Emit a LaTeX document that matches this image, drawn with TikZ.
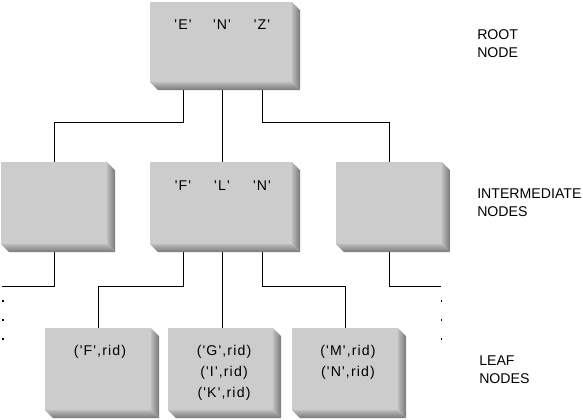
\documentclass[tikz,border=0pt]{standalone}
\usepackage{fontspec}
\newfontfamily\arialf{Liberation Sans}
\newfontfamily\arialsp{Liberation Sans}[LetterSpace=8]
\usetikzlibrary{fit,backgrounds}
\definecolor{face}{RGB}{204,204,204}
\definecolor{bevlight}{RGB}{188,188,188}
\definecolor{bevdark}{RGB}{120,120,120}
\newcommand\bevel[1]{%
  \shade[left color=bevlight,right color=bevdark] (#1.north east) -- ([shift={(8,8)}]#1.north east) -- ([shift={(8,8)}]#1.south east) -- (#1.south east) -- cycle;
  \shade[top color=bevlight,bottom color=bevdark] (#1.south west) -- (#1.south east) -- ([shift={(8,8)}]#1.south east) -- ([shift={(8,8)}]#1.south west) -- cycle;
}
\begin{document}
\begin{tikzpicture}[x=0.75pt,y=-0.75pt,
  font=\arialf\fontsize{10.6pt}{12pt}\selectfont,
  boxface/.style={fill=face, inner sep=0pt, outer sep=0pt, draw=none},
  txt/.style={inner sep=0pt, anchor=base, font=\arialsp\fontsize{10.6pt}{12pt}\selectfont},
  lbl/.style={inner sep=0pt, anchor=base west},
  conn/.style={draw=black, line width=0.75pt}]
\useasboundingbox (0,0) rectangle (583,419);
% boxes
\node[boxface, fit={(150,2) (292,82)}] (root) {};
\bevel{root}
\node[boxface, fit={(1,162) (107,244)}] (intL) {};
\bevel{intL}
\node[boxface, fit={(150,162) (292,244)}] (intM) {};
\bevel{intM}
\node[boxface, fit={(336,162) (442,244)}] (intR) {};
\bevel{intR}
\node[boxface, fit={(45,328) (151,410)}] (leafA) {};
\bevel{leafA}
\node[boxface, fit={(168,328) (273,410)}] (leafB) {};
\bevel{leafB}
\node[boxface, fit={(292,328) (398,410)}] (leafC) {};
\bevel{leafC}
% keys
\node[txt] (kE) at (183,29) {'E'};
\node[txt] (kN) at (222,29) {'N'};
\node[txt] (kZ) at (262,29) {'Z'};
\node[txt] (kF) at (183,190) {'F'};
\node[txt] (kL) at (222,190) {'L'};
\node[txt] (kN2) at (262,190) {'N'};
\node[txt] (lA1) at (100,355) {('F',rid)};
\node[txt] (lB1) at (224,355) {('G',rid)};
\node[txt] (lB2) at (224,376) {('I',rid)};
\node[txt] (lB3) at (224,397) {('K',rid)};
\node[txt] (lC1) at (348,355) {('M',rid)};
\node[txt] (lC2) at (348,376) {('N',rid)};
% labels
\node[lbl] (r1) at (477,39) {ROOT};
\node[lbl] (r2) at (477,57) {NODE};
\node[lbl] (i1) at (477,198) {INTERMEDIATE};
\node[lbl] (i2) at (477,216) {NODES};
\node[lbl] (f1) at (479,365) {LEAF};
\node[lbl] (f2) at (479,383) {NODES};
% connector anchors
\coordinate (kEs) at (183,49);
\coordinate (kNs) at (222,49);
\coordinate (kZs) at (262,49);
\coordinate (kFs) at (183,210);
\coordinate (kLs) at (222,210);
\coordinate (kN2s) at (262,210);
\coordinate (busA) at (0,122);
\coordinate (busB) at (0,286);
\coordinate (endL) at (2,286);
\coordinate (endR) at (441,286);
\begin{scope}[on background layer]
\draw[conn] (kEs) -- (kEs |- busA) -| (intL.north);
\draw[conn] (kNs) -- (kNs |- intM.north);
\draw[conn] (kZs) -- (kZs |- busA) -| (intR.north);
\draw[conn] (kFs) -- (kFs |- busB) -| (leafA.north);
\draw[conn] (kLs) -- (kLs |- leafB.north);
\draw[conn] (kN2s) -- (kN2s |- busB) -| (leafC.north);
\draw[conn] (intL.south) -- (intL.south |- busB) -- (endL);
\draw[conn] (intR.south) -- (intR.south |- busB) -- (endR);
\end{scope}
% continuation dots
\foreach \yy in {300,319,338}{
  \fill (2,\yy) rectangle (3.5,\yy+1.5);
  \fill (440.5,\yy) rectangle (442,\yy+1.5);
}
\end{tikzpicture}
\end{document}
